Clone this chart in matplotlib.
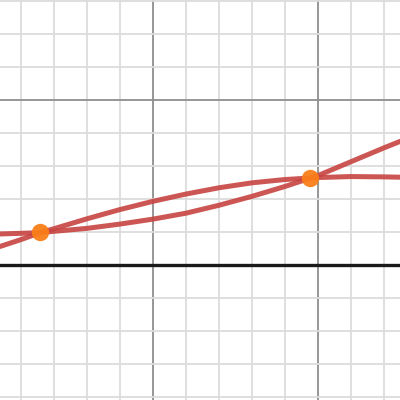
import matplotlib
matplotlib.use("Agg")
import matplotlib.pyplot as plt
import numpy as np

# Curve A (concave, flattening to the right)
xa = [0.36, 1, 1.58, 2, 3, 4, 5, 6, 7, 8, 9, 10, 11, 12, 12.5]
ya = [0.56, 0.77, 0.98, 1.10, 1.40, 1.68, 1.93, 2.15, 2.34, 2.49, 2.59, 2.65, 2.68, 2.67, 2.66]

# Curve B (convex, steepening to the right)
xb = [0.36, 1, 1.58, 2, 3, 4, 5, 6, 7, 8, 9, 9.76, 10, 11, 12, 12.5]
yb = [0.94, 0.96, 0.98, 1.02, 1.11, 1.24, 1.39, 1.57, 1.81, 2.08, 2.38, 2.63, 2.71, 3.13, 3.55, 3.75]

# Intersection points
px = [1.58, 9.76]
py = [0.99, 2.64]

fig = plt.figure(figsize=(4, 4), dpi=100)
ax = fig.add_axes([0, 0, 1, 1])

ax.set_xticks(np.arange(5, 13, 5))
ax.set_xticks(np.arange(1, 13, 1), minor=True)
ax.set_yticks(np.arange(5, 9, 5))
ax.set_yticks(np.arange(-4, 9, 1), minor=True)
ax.set_xlim(0.3636, 12.485)
ax.set_ylim(-4.091, 8.030)
ax.grid(which='minor', color='#dcdcdc', lw=1.3, zorder=0)
ax.grid(which='major', color='#8f8f8f', lw=1.3, zorder=0.5)
ax.tick_params(which='both', length=0, labelbottom=False, labelleft=False)
for s in ax.spines.values():
    s.set_visible(False)
ax.set_axisbelow(True)
ax.axhline(0, color='#1a1a1a', lw=2.4, zorder=1)

ax.plot(xa, ya, color='#c74440', lw=3.6, alpha=0.9, solid_capstyle='round', solid_joinstyle='round', zorder=2)
ax.plot(xb, yb, color='#c74440', lw=3.6, alpha=0.9, solid_capstyle='round', solid_joinstyle='round', zorder=2)
ax.plot(px, py, 'o', color='#fa7e19', ms=12.5, mec='none', alpha=0.95, zorder=3)

fig.savefig('out.png', dpi=100)
